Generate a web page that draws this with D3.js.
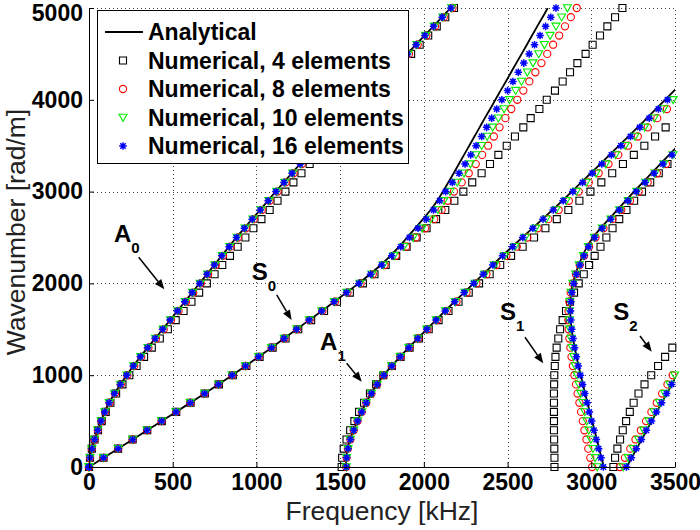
<!DOCTYPE html>
<html>
<head>
<meta charset="utf-8">
<script src="https://cdn.jsdelivr.net/npm/d3@7/dist/d3.min.js"></script>
<style>
  body { margin: 0; background: #fff; }
  svg { display: block; font-family: "Liberation Sans", Arial, Helvetica, sans-serif; }
</style>
</head>
<body>
<div id="chart"></div>
<script>
// numerical solutions are sampled every 100 rad/m; index i of a mode array
// belongs to wavenumber[i]
const wavenumber = [0, 100, 200, 300, 400, 500, 600, 700, 800, 900,
  1000, 1100, 1200, 1300, 1400, 1500, 1600, 1700, 1800, 1900,
  2000, 2100, 2200, 2300, 2400, 2500, 2600, 2700, 2800, 2900,
  3000, 3100, 3200, 3300, 3400, 3500, 3600, 3700, 3800, 3900,
  4000, 4100, 4200, 4300, 4400, 4500, 4600, 4700, 4800, 4900, 5000];

const frequencyTicks = [0, 500, 1000, 1500, 2000, 2500, 3000, 3500];
const wavenumberTicks = [0, 1000, 2000, 3000, 4000, 5000];

// frequencies [kHz], A0 mode
const a0Analytical = [0, 6, 17, 33, 52, 72, 94, 120, 152, 187, 225, 265, 307, 350, 395, 440, 484, 528, 572, 616, 660, 704, 748, 792, 836, 880, 927, 974, 1022, 1068, 1115, 1163, 1211, 1260, 1310, 1360, 1414, 1468, 1522, 1576, 1630, 1684, 1738, 1792, 1846, 1900, 1952, 2004, 2056, 2108, 2160];
const a0Num4 = [0, 6, 17, 33, 54, 76, 100, 128, 162, 200, 241, 284, 329, 375, 423, 471, 518, 565, 612, 658, 704, 750, 796, 842, 888, 934, 982, 1030, 1079, 1126, 1173, 1221, 1269, 1318, 1365, 1412, 1463, 1514, 1565, 1616, 1667, 1718, 1769, 1820, 1872, 1924, 1975, 2026, 2077, 2128, 2180];
const a0Num8 = [0, 6, 17, 34, 53, 74, 96, 123, 155, 190, 229, 270, 312, 355, 400, 446, 490, 535, 579, 623, 668, 712, 756, 800, 845, 890, 937, 984, 1032, 1079, 1126, 1174, 1222, 1271, 1321, 1371, 1425, 1479, 1533, 1587, 1641, 1695, 1749, 1803, 1857, 1911, 1963, 2015, 2067, 2119, 2171];
const a0Num10 = [0, 6, 17, 33, 52, 73, 95, 121, 153, 188, 227, 267, 309, 352, 397, 443, 487, 531, 575, 619, 664, 708, 752, 796, 840, 885, 932, 979, 1027, 1074, 1121, 1169, 1217, 1266, 1316, 1366, 1420, 1474, 1528, 1582, 1636, 1690, 1744, 1798, 1852, 1906, 1958, 2010, 2062, 2114, 2166];
const a0Num16 = [0, 6, 17, 33, 52, 72, 94, 120, 152, 187, 225, 265, 307, 350, 395, 440, 484, 528, 572, 616, 661, 705, 749, 793, 837, 881, 928, 975, 1023, 1070, 1117, 1165, 1213, 1262, 1312, 1362, 1416, 1470, 1524, 1578, 1632, 1686, 1740, 1794, 1848, 1902, 1954, 2006, 2058, 2110, 2162];

// S0 mode
const s0Analytical = [0, 87, 174, 261, 347, 434, 520, 605, 690, 773, 855, 935, 1013, 1090, 1165, 1240, 1315, 1390, 1464, 1538, 1610, 1678, 1742, 1800, 1852, 1900, 1948, 1995, 2040, 2080, 2114, 2146, 2178, 2209, 2240, 2271, 2302, 2333, 2364, 2396, 2427, 2458, 2490, 2521, 2552, 2584, 2615, 2646, 2677, 2709, 2740];
const s0Num4 = [0, 87, 174, 261, 348, 435, 521, 607, 692, 776, 859, 940, 1019, 1097, 1174, 1250, 1327, 1404, 1481, 1558, 1636, 1705, 1772, 1835, 1897, 1957, 2016, 2073, 2128, 2182, 2236, 2289, 2345, 2395, 2445, 2495, 2544, 2594, 2638, 2690, 2734, 2783, 2829, 2873, 2917, 2966, 3008, 3052, 3096, 3142, 3186];
const s0Num8 = [0, 87, 174, 261, 347, 434, 520, 605, 690, 773, 855, 935, 1014, 1091, 1167, 1242, 1318, 1394, 1469, 1544, 1622, 1695, 1765, 1832, 1894, 1952, 2008, 2062, 2106, 2142, 2180, 2226, 2268, 2310, 2348, 2384, 2418, 2452, 2487, 2522, 2558, 2594, 2630, 2666, 2702, 2737, 2772, 2808, 2843, 2878, 2913];
const s0Num10 = [0, 87, 174, 261, 347, 434, 520, 605, 690, 773, 855, 935, 1013, 1090, 1166, 1241, 1316, 1391, 1466, 1540, 1618, 1690, 1758, 1822, 1880, 1936, 1990, 2040, 2084, 2120, 2156, 2200, 2240, 2278, 2312, 2345, 2378, 2411, 2445, 2479, 2512, 2548, 2583, 2618, 2652, 2686, 2720, 2754, 2789, 2823, 2857];
const s0Num16 = [0, 87, 174, 261, 347, 434, 520, 605, 690, 773, 855, 935, 1013, 1090, 1165, 1240, 1315, 1390, 1464, 1538, 1612, 1682, 1748, 1808, 1862, 1914, 1965, 2014, 2058, 2094, 2130, 2170, 2210, 2246, 2280, 2312, 2345, 2375, 2405, 2435, 2466, 2500, 2532, 2564, 2597, 2629, 2661, 2694, 2727, 2758, 2789];

// A1 mode
const a1Analytical = [1535, 1537, 1545, 1560, 1580, 1603, 1628, 1655, 1686, 1720, 1760, 1808, 1858, 1910, 1963, 2017, 2072, 2127, 2183, 2240, 2297, 2354, 2411, 2468, 2528, 2588, 2648, 2708, 2768, 2826, 2883, 2940, 2997, 3053, 3109, 3165, 3221, 3277, 3332, 3387, 3441, 3495, 3549];
const a1Num4 = [1509, 1512, 1521, 1538, 1560, 1585, 1613, 1643, 1678, 1715, 1758, 1809, 1861, 1915, 1971, 2029, 2088, 2147, 2207, 2268, 2330, 2393, 2456, 2521, 2590, 2658, 2726, 2794, 2863, 2929, 2995, 3060, 3125, 3189, 3254, 3317, 3381, 3444];
const a1Num8 = [1536, 1538, 1546, 1561, 1581, 1604, 1629, 1656, 1687, 1721, 1761, 1810, 1861, 1914, 1967, 2022, 2079, 2137, 2195, 2255, 2314, 2374, 2433, 2493, 2555, 2618, 2680, 2743, 2805, 2866, 2925, 2985, 3044, 3103, 3161, 3220, 3278, 3337, 3394, 3452];
const a1Num10 = [1537, 1539, 1547, 1561, 1581, 1604, 1629, 1656, 1687, 1721, 1761, 1809, 1859, 1911, 1964, 2018, 2074, 2130, 2187, 2246, 2305, 2364, 2423, 2482, 2544, 2606, 2668, 2730, 2790, 2850, 2911, 2970, 3029, 3087, 3145, 3203, 3261, 3319, 3376, 3433, 3489];
const a1Num16 = [1537, 1539, 1547, 1561, 1581, 1604, 1629, 1656, 1687, 1721, 1761, 1809, 1859, 1911, 1964, 2018, 2073, 2128, 2184, 2241, 2298, 2355, 2412, 2470, 2530, 2591, 2651, 2712, 2773, 2832, 2890, 2948, 3006, 3063, 3120, 3177, 3234, 3290, 3346, 3401, 3455];

// S1 mode (backward wave branch below ~1700 rad/m)
const s1Analytical = [3075, 3061, 3047, 3033, 3019, 3005, 2991, 2977, 2963, 2950, 2937, 2924, 2912, 2901, 2891, 2883, 2877, 2874, 2875, 2880, 2890, 2905, 2925, 2948, 2975, 3010, 3055, 3105, 3155, 3205, 3255, 3307, 3360, 3412, 3465, 3518];
const s1Num4 = [2780, 2780, 2779, 2778, 2777, 2777, 2777, 2777, 2777, 2778, 2779, 2782, 2786, 2793, 2803, 2814, 2829, 2849, 2873, 2897, 2925, 2955, 2987, 3020, 3055, 3090, 3127, 3167, 3210, 3256, 3303, 3352, 3403, 3455];
const s1Num8 = [3005, 2994, 2982, 2971, 2959, 2949, 2939, 2929, 2918, 2909, 2899, 2890, 2882, 2875, 2869, 2865, 2863, 2864, 2869, 2877, 2890, 2908, 2931, 2957, 2987, 3025, 3073, 3126, 3179, 3231, 3283, 3337, 3392, 3446];
const s1Num10 = [3035, 3023, 3010, 2998, 2985, 2973, 2961, 2949, 2937, 2926, 2915, 2904, 2895, 2886, 2879, 2873, 2869, 2869, 2872, 2879, 2890, 2907, 2928, 2953, 2982, 3019, 3066, 3117, 3169, 3220, 3272, 3325, 3380, 3433, 3488];
const s1Num16 = [3072, 3058, 3044, 3030, 3016, 3002, 2988, 2975, 2961, 2948, 2935, 2922, 2911, 2900, 2891, 2883, 2878, 2876, 2878, 2884, 2895, 2911, 2932, 2956, 2984, 3020, 3065, 3116, 3167, 3218, 3269, 3321, 3375, 3428, 3482];

// S2 mode
const s2Analytical = [3211, 3241, 3271, 3301, 3331, 3361, 3391, 3421, 3451, 3481, 3511];
const s2Num4 = [3132, 3142, 3156, 3172, 3188, 3208, 3230, 3253, 3282, 3318, 3358, 3399, 3441, 3484];
const s2Num8 = [3170, 3201, 3233, 3264, 3296, 3327, 3359, 3391, 3423, 3455, 3486];
const s2Num10 = [3190, 3220, 3251, 3282, 3313, 3344, 3375, 3407, 3438, 3469, 3498];
const s2Num16 = [3210, 3239, 3269, 3299, 3329, 3359, 3389, 3420, 3450, 3480];

const modeNames = ["A0", "S0", "A1", "S1", "S2"];
const seriesLabels = ["Analytical", "Numerical, 4 elements", "Numerical, 8 elements",
  "Numerical, 10 elements", "Numerical, 16 elements"];

// table the drawing code works from: one row per mode
const modes = [
  [a0Analytical, a0Num4, a0Num8, a0Num10, a0Num16],
  [s0Analytical, s0Num4, s0Num8, s0Num10, s0Num16],
  [a1Analytical, a1Num4, a1Num8, a1Num10, a1Num16],
  [s1Analytical, s1Num4, s1Num8, s1Num10, s1Num16],
  [s2Analytical, s2Num4, s2Num8, s2Num10, s2Num16]
].map((arrs, i) => ({name: modeNames[i], series: arrs}));

// ---- layout ----
const width = 700;
const height = 530;
const margin = {top: 8, right: 25, bottom: 63, left: 89};
const fMax = 3500;
const kMax = 5000;

const x = d3.scaleLinear().domain([0, fMax]).range([margin.left, width - margin.right]);
const y = d3.scaleLinear().domain([0, kMax]).range([height - margin.bottom, margin.top]);

// marker shapes, matlab style
const markers = [
  null,
  {color: "#000000", width: 1.1, path: "M-3.5,-3.5H3.5V3.5H-3.5Z"},
  {color: "#ff0000", width: 1.1, path: "M3.6,0A3.6,3.6 0 1,1 -3.6,0A3.6,3.6 0 1,1 3.6,0Z"},
  {color: "#00ee00", width: 1.1, path: "M-4,-3.2H4L0,3.8Z"},
  {color: "#0000ff", width: 1.5, path: "M-3.8,0H3.8M0,-3.8V3.8M-2.7,-2.7L2.7,2.7M-2.7,2.7L2.7,-2.7"}
];

const svg = d3.select("#chart").append("svg")
  .attr("width", width)
  .attr("height", height);

svg.append("rect").attr("width", width).attr("height", height).attr("fill", "#fff");

svg.append("clipPath").attr("id", "plot-clip")
  .append("rect")
  .attr("x", margin.left)
  .attr("y", margin.top)
  .attr("width", width - margin.left - margin.right)
  .attr("height", height - margin.top - margin.bottom);

// dotted grid
const grid = svg.append("g")
  .attr("stroke", "#000")
  .attr("stroke-width", 1)
  .attr("stroke-dasharray", "1,3")
  .attr("stroke-opacity", 0.75);
grid.selectAll("line.gx")
  .data(frequencyTicks.filter(d => d > 0))
  .enter().append("line")
  .attr("class", "gx")
  .attr("x1", d => Math.round(x(d)) + 0.5)
  .attr("x2", d => Math.round(x(d)) + 0.5)
  .attr("y1", y(0))
  .attr("y2", y(kMax));
grid.selectAll("line.gy")
  .data(wavenumberTicks.filter(d => d > 0))
  .enter().append("line")
  .attr("class", "gy")
  .attr("x1", x(0))
  .attr("x2", x(fMax))
  .attr("y1", d => Math.round(y(d)) + 0.5)
  .attr("y2", d => Math.round(y(d)) + 0.5);

// axes (left and bottom only, ticks pointing inwards)
const xAxis = d3.axisBottom(x)
  .tickValues(frequencyTicks)
  .tickFormat(d3.format("d"))
  .tickSizeInner(-5)
  .tickSizeOuter(0)
  .tickPadding(7);
const yAxis = d3.axisLeft(y)
  .tickValues(wavenumberTicks)
  .tickFormat(d3.format("d"))
  .tickSizeInner(-5)
  .tickSizeOuter(0)
  .tickPadding(6);

const styleAxis = g => g
  .attr("font-family", null)
  .attr("font-size", 23)
  .attr("font-weight", "bold")
  .call(g => g.selectAll("text").attr("fill", "#000"));

// analytical curves
const curves = svg.append("g").attr("clip-path", "url(#plot-clip)");
const line = d3.line()
  .x(d => x(d[0]))
  .y(d => y(d[1]))
  .curve(d3.curveCatmullRom);

curves.selectAll("path")
  .data(modes)
  .enter().append("path")
  .attr("d", m => line(m.series[0].map((f, i) => [f, wavenumber[i]])))
  .attr("fill", "none")
  .attr("stroke", "#000")
  .attr("stroke-width", 1.8);

// numerical markers, one layer per mesh size
for (let s = 1; s <= 4; s++) {
  const pts = [];
  modes.forEach(m => {
    m.series[s].forEach((f, i) => {
      if (f != null && f >= 0 && f <= fMax) pts.push([f, wavenumber[i]]);
    });
  });
  svg.append("g")
    .attr("class", "series-" + s)
    .selectAll("path")
    .data(pts)
    .enter().append("path")
    .attr("transform", d => `translate(${x(d[0])},${y(d[1])})`)
    .attr("d", markers[s].path)
    .attr("fill", "none")
    .attr("stroke", markers[s].color)
    .attr("stroke-width", markers[s].width);
}

svg.append("g")
  .attr("transform", `translate(0,${y(0)})`)
  .call(xAxis)
  .call(styleAxis);

svg.append("g")
  .attr("transform", `translate(${x(0)},0)`)
  .call(yAxis)
  .call(styleAxis)
  // top label sits against the page edge, nudge it down a little
  .call(g => g.selectAll(".tick text").filter(d => d === kMax).attr("dy", "0.56em"));

// axis titles
svg.append("text")
  .attr("x", (x(0) + x(fMax)) / 2)
  .attr("y", 520)
  .attr("text-anchor", "middle")
  .attr("font-size", 26.5)
  .attr("fill", "#222")
  .text("Frequency [kHz]");

svg.append("text")
  .attr("transform", "translate(25,232) rotate(-90)")
  .attr("text-anchor", "middle")
  .attr("font-size", 26.5)
  .attr("fill", "#222")
  .text("Wavenumber [rad/m]");

// mode annotations, placed in data units
const annotations = [
  {letter: "A", sub: "0", f: 149, k: 2451, from: [297, 2284], to: [450, 1936]},
  {letter: "S", sub: "0", f: 972, k: 2037, from: [1121, 1874], to: [1210, 1601]},
  {letter: "A", sub: "1", f: 1380, k: 1274, from: [1539, 1130], to: [1629, 929]},
  {letter: "S", sub: "1", f: 2455, k: 1601, from: [2604, 1413], to: [2713, 1130]},
  {letter: "S", sub: "2", f: 3131, k: 1601, from: [3291, 1427], to: [3361, 1256]}
];

const notes = svg.append("g");
annotations.forEach(a => {
  const t = notes.append("text")
    .attr("x", x(a.f))
    .attr("y", y(a.k))
    .attr("font-size", 24)
    .attr("font-weight", "bold");
  t.append("tspan").text(a.letter);
  t.append("tspan").attr("dy", 11).attr("font-size", 15).text(a.sub);

  const x1 = x(a.from[0]), y1 = y(a.from[1]);
  const x2 = x(a.to[0]), y2 = y(a.to[1]);
  const ang = Math.atan2(y2 - y1, x2 - x1);
  const headLen = 10, headW = 4;
  const bx = x2 - headLen * Math.cos(ang), by = y2 - headLen * Math.sin(ang);
  notes.append("line")
    .attr("x1", x1).attr("y1", y1)
    .attr("x2", bx).attr("y2", by)
    .attr("stroke", "#000")
    .attr("stroke-width", 1.5);
  notes.append("path")
    .attr("d", `M${x2},${y2}L${bx + headW * Math.sin(ang)},${by - headW * Math.cos(ang)}L${bx - headW * Math.sin(ang)},${by + headW * Math.cos(ang)}Z`)
    .attr("fill", "#000");
});

// legend box top left
const legend = svg.append("g").attr("transform", "translate(97,10)");
legend.append("rect")
  .attr("x", 0.5).attr("y", 0.5)
  .attr("width", 311).attr("height", 153)
  .attr("fill", "#fff")
  .attr("stroke", "#000")
  .attr("stroke-width", 1);

const rowY = i => 22 + i * 28.5;
const rows = legend.selectAll("g.row")
  .data(seriesLabels)
  .enter().append("g")
  .attr("class", "row")
  .attr("transform", (d, i) => `translate(0,${rowY(i)})`);

rows.filter((d, i) => i === 0).append("line")
  .attr("x1", 8).attr("x2", 46)
  .attr("stroke", "#000")
  .attr("stroke-width", 1.8);

rows.filter((d, i) => i > 0).append("path")
  .attr("transform", "translate(26,0)")
  .attr("d", (d, i) => markers[i + 1].path)
  .attr("fill", "none")
  .attr("stroke", (d, i) => markers[i + 1].color)
  .attr("stroke-width", (d, i) => markers[i + 1].width);

rows.append("text")
  .attr("x", 51)
  .attr("y", 8.3)
  .attr("font-size", 23)
  .attr("font-weight", "bold")
  .text(d => d);
</script>
</body>
</html>
